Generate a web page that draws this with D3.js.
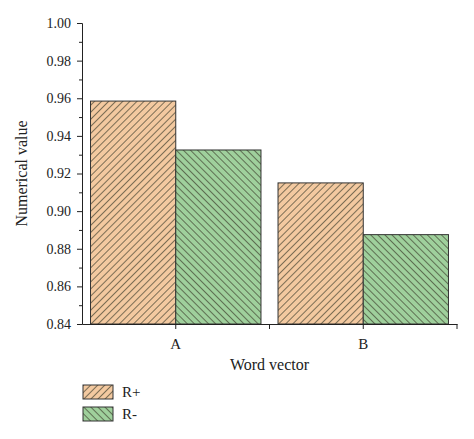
<!DOCTYPE html>
<html><head><meta charset="utf-8">
<script src="https://cdn.jsdelivr.net/npm/d3@7"></script>
<style>body{margin:0;background:#fff}text{font-family:"Liberation Serif",serif;fill:#222}</style>
</head><body>
<svg id="chart" width="474" height="439"></svg>
<script>
var categories = ["A", "B"];
var seriesNames = ["R+", "R-"];
var valuesPlus = [0.9585, 0.915];
var valuesMinus = [0.9325, 0.8875];
var yTicks = [0.84, 0.86, 0.88, 0.90, 0.92, 0.94, 0.96, 0.98, 1.00];
var fills = ["#f3c9a0", "#9fd09c"];

var svg = d3.select("#chart");
var plotLeft = 82, plotRight = 457, plotTop = 23, plotBottom = 324;

var defs = svg.append("defs");
function hatch(id, color, angle){
    var p = defs.append("pattern").attr("id", id).attr("patternUnits", "userSpaceOnUse")
        .attr("width", 5).attr("height", 5).attr("patternTransform", "rotate(" + angle + ")");
    p.append("rect").attr("width", 5).attr("height", 5).attr("fill", color);
    p.append("line").attr("x1", 0).attr("y1", 0).attr("x2", 0).attr("y2", 5)
        .attr("stroke", "#3a3a2a").attr("stroke-width", 1.3);
}
hatch("hp", fills[0], 45);
hatch("hm", fills[1], -45);

var x = d3.scaleBand().domain(categories).range([plotLeft, plotRight]).padding(0);
var xs = d3.scaleBand().domain(seriesNames).range([0, x.bandwidth()]).paddingInner(0).paddingOuter(0.1);
var y = d3.scaleLinear().domain([0.84, 1.00]).range([plotBottom, plotTop]);

var rows = categories.map(function(c, i){ return {cat: c, vals: [valuesPlus[i], valuesMinus[i]]}; });
var g = svg.selectAll("g.grp").data(rows).enter().append("g").attr("class", "grp")
    .attr("transform", function(d){ return "translate(" + x(d.cat) + ",0)"; });
g.selectAll("rect").data(function(d){ return d.vals.map(function(v, j){ return {v: v, s: seriesNames[j], j: j}; }); })
    .enter().append("rect")
    .attr("x", function(d){ return xs(d.s); })
    .attr("width", xs.bandwidth())
    .attr("y", function(d){ return y(d.v); })
    .attr("height", function(d){ return plotBottom - y(d.v); })
    .attr("fill", function(d){ return d.j == 0 ? "url(#hp)" : "url(#hm)"; })
    .attr("stroke", "#333").attr("stroke-width", 1);

// y axis
var ya = svg.append("g").attr("transform", "translate(" + plotLeft + ",0)")
    .call(d3.axisLeft(y).tickValues(yTicks).tickFormat(d3.format(".2f")).tickSize(5).tickPadding(6));
ya.selectAll("text").style("font-size", "14px");
var minor = d3.range(0, yTicks.length - 1).map(function(i){ return (yTicks[i] + yTicks[i + 1]) / 2; });
svg.append("g").attr("transform", "translate(" + plotLeft + ",0)")
    .call(d3.axisLeft(y).tickValues(minor).tickFormat("").tickSize(3)).select(".domain").remove();

// x axis
var xa = svg.append("g").attr("transform", "translate(0," + plotBottom + ")")
    .call(d3.axisBottom(x).tickSize(0).tickPadding(14));
xa.selectAll("text").style("font-size", "15px");
var xt = categories.map(function(c){ return x(c) + x.bandwidth() / 2; }).concat([plotLeft + x.step(), plotRight]);
svg.append("g").selectAll("line").data(xt).enter().append("line")
    .attr("x1", function(d){ return d; }).attr("x2", function(d){ return d; })
    .attr("y1", plotBottom).attr("y2", plotBottom + 5).attr("stroke", "#222");
svg.selectAll(".domain").attr("stroke", "#222");
svg.selectAll(".tick line").attr("stroke", "#222");

svg.append("text").attr("x", (plotLeft + plotRight) / 2).attr("y", 370).attr("text-anchor", "middle")
    .style("font-size", "16px").text("Word vector");
svg.append("text").attr("transform", "translate(27," + (plotTop + plotBottom) / 2 + ") rotate(-90)")
    .attr("text-anchor", "middle").style("font-size", "16px").text("Numerical value");

// legend
var lg = svg.selectAll("g.leg").data(seriesNames).enter().append("g").attr("class", "leg")
    .attr("transform", function(d, i){ return "translate(83," + (385 + i * 22) + ")"; });
lg.append("rect").attr("width", 30).attr("height", 14)
    .attr("fill", function(d, i){ return i == 0 ? "url(#hp)" : "url(#hm)"; })
    .attr("stroke", "#333");
lg.append("text").attr("x", 39).attr("y", 12).style("font-size", "15px").text(function(d){ return d; });
</script>
</body></html>
